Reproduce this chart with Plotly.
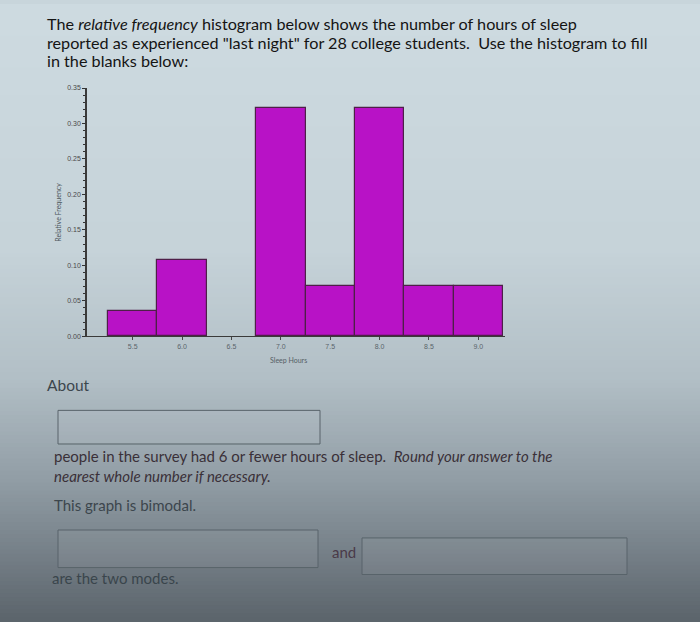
import plotly.graph_objects as go

# hours of sleep (bin centres) and number of students in each bin
sleep_hours = [5.5, 6.0, 6.5, 7.0, 7.5, 8.0, 8.5, 9.0]
counts = [1, 3, 0, 9, 2, 9, 2, 2]
n_students = 28
rel_freq = [c / n_students for c in counts]

x_ticks = [5.5, 6.0, 6.5, 7.0, 7.5, 8.0, 8.5, 9.0]
x_labels = ["5.5", "6.0", "6.5", "7.0", "7.5", "8.0", "8.5", "9.0"]
y_ticks = [0.00, 0.05, 0.10, 0.15, 0.20, 0.25, 0.30, 0.35]
y_labels = ["0.00", "0.05", "0.10", "0.15", "0.20", "0.25", "0.30", "0.35"]

W, H = 700, 622


def px(x):
    return x / W


def py(y):
    return 1 - y / H


fig = go.Figure()
# empty bins get no outline so nothing is drawn on the baseline
line_w = [1.2 if c > 0 else 0 for c in counts]
fig.add_trace(go.Bar(x=sleep_hours, y=rel_freq, width=0.5,
                     marker=dict(color="#b812c6", line=dict(color="#4e1f48", width=line_w)),
                     hoverinfo="x+y"))

# background of the photo: light at top, darker toward bottom
stops = [(0, (206, 219, 225)), (250, (198, 211, 217)), (380, (178, 191, 198)),
         (480, (146, 158, 166)), (560, (116, 126, 134)), (622, (92, 101, 108))]
shapes = []
step = 4
for y0 in range(0, H, step):
    yc = y0 + step / 2
    for (a, ca), (b, cb) in zip(stops[:-1], stops[1:]):
        if a <= yc <= b:
            t = (yc - a) / (b - a)
            c = tuple(int(ca[i] + (cb[i] - ca[i]) * t) for i in range(3))
            break
    # overlap bands by a pixel so no seams show
    shapes.append(dict(type="rect", xref="paper", yref="paper", x0=0, x1=1,
                       y0=py(y0 + step + 1), y1=py(y0), fillcolor="rgb(%d,%d,%d)" % c,
                       line=dict(width=0), layer="below"))

# answer boxes
for x0, x1, y0, y1 in [(58, 320, 411, 445), (58, 318, 532, 570), (362, 627, 540, 577)]:
    shapes.append(dict(type="rect", xref="paper", yref="paper", x0=px(x0), x1=px(x1),
                       y0=py(y1), y1=py(y0), fillcolor="rgba(255,255,255,0.06)",
                       line=dict(color="#58636a", width=1), layer="below"))

fig.update_layout(shapes=shapes)

txt = "#141414"
faint = "#3c464d"
anns = [
    dict(x=px(45), y=py(8), text="The <i>relative frequency</i> histogram below shows the number of hours of sleep",
         font=dict(size=16.2, color=txt)),
    dict(x=px(45), y=py(27), text='reported as experienced "last night" for 28 college students.  Use the histogram to fill',
         font=dict(size=16.2, color=txt)),
    dict(x=px(45), y=py(46), text="in the blanks below:", font=dict(size=16.2, color=txt)),
    dict(x=px(45), y=py(374), text="About", font=dict(size=15.5, color=faint)),
    dict(x=px(52), y=py(446),
         text="people in the survey had 6 or fewer hours of sleep.  <i>Round your answer to the</i>"
              "<br><i>nearest whole number if necessary.</i>",
         font=dict(size=15, color="#3a3038"), align="left"),
    dict(x=px(52), y=py(496), text="This graph is bimodal.", font=dict(size=15, color=faint)),
    dict(x=px(330), y=py(543), text="and", font=dict(size=15, color="#4a3a48")),
    dict(x=px(50), y=py(569), text="are the two modes.", font=dict(size=15, color="#3a454c")),
    dict(x=px(288), y=py(354), text="Sleep Hours", font=dict(size=7, color="#555f66"),
         xanchor="center"),
    dict(x=px(58), y=py(210), text="Relative Frequency", textangle=-90,
         font=dict(size=7, color="#4a545a"), xanchor="center", yanchor="middle"),
]
for a in anns:
    a.setdefault("xanchor", "left")
    a.setdefault("yanchor", "top")
    a.update(xref="paper", yref="paper", showarrow=False)
    a["font"].setdefault("family", "Lato")
fig.update_layout(annotations=anns)

fig.update_layout(
    width=W, height=H,
    margin=dict(l=0, r=0, t=0, b=0),
    paper_bgcolor="rgb(200,213,219)",
    plot_bgcolor="rgba(0,0,0,0)",
    showlegend=False,
    bargap=0,
    xaxis=dict(domain=[px(87), px(505)], range=[5.037, 9.27],
               tickvals=x_ticks, ticktext=x_labels, ticks="outside", ticklen=3,
               tickcolor="#444", tickfont=dict(family="Liberation Sans", size=7, color="#5a646a"),
               showgrid=False, zeroline=False, showline=True, linecolor="#3a3a3a", linewidth=1,
               anchor="y", fixedrange=True),
    yaxis=dict(domain=[py(336), py(85)], range=[0, 0.35],
               tickvals=y_ticks, ticktext=y_labels, ticks="outside", ticklen=3,
               tickcolor="#333", tickfont=dict(family="Liberation Sans", size=7, color="#4a4a4a"),
               minor=dict(dtick=0.01, ticks="outside", ticklen=2, tickcolor="#333"),
               showgrid=False, zeroline=False, showline=True, linecolor="#3a3a3a", linewidth=1.5,
               anchor="x", fixedrange=True),
)

fig.write_html("out.html", config={"displayModeBar": False},
               post_script="document.body.style.margin='0';")
